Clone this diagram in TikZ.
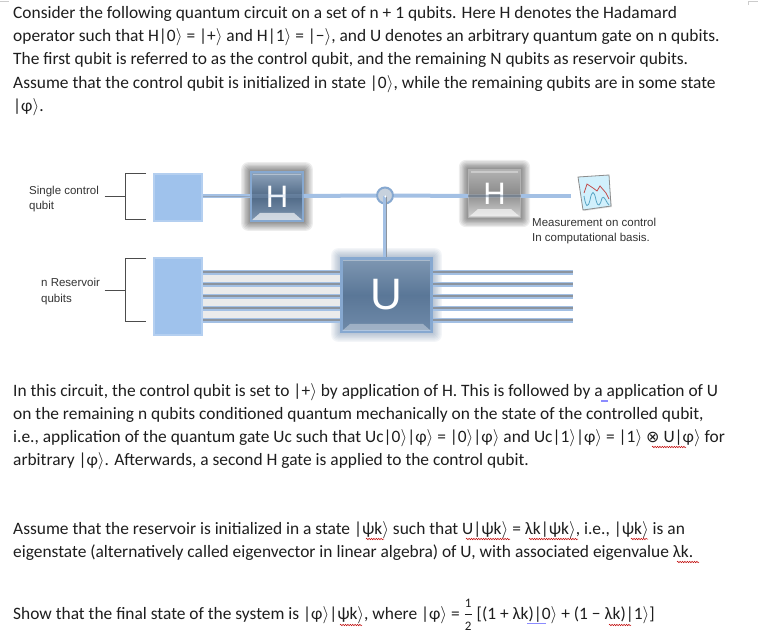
\documentclass[tikz,border=0pt]{standalone}
\usepackage{fontspec}
\setmainfont{Carlito}
\newfontfamily\lblfont{Liberation Sans}
\newfontfamily\symfont{DejaVu Sans}
\usetikzlibrary{calc,backgrounds,decorations.pathmorphing}
\definecolor{wireblue}{HTML}{A3C0E4}
\definecolor{wiregray}{HTML}{8C949E}
\definecolor{regblue}{HTML}{9FC2EC}
\definecolor{regedge}{HTML}{B4CFF0}
\definecolor{gateblue}{HTML}{5F7D9F}
\definecolor{gateedge}{HTML}{86A8D0}
\definecolor{txt}{HTML}{1E1E1E}
\newcommand{\kt}{$\rangle$}
\tikzset{
  line/.style={anchor=base west,inner sep=0pt,text=txt,font=\fontsize{17.4}{20}\selectfont},
  lbl/.style={anchor=base west,inner sep=0pt,text=black!80,font=\lblfont\fontsize{11.5}{13}\selectfont},
  reg/.style={draw=regedge,line width=2pt,fill=regblue,inner sep=0pt},
  gateU/.style={draw=gateedge,line width=2.5pt,inner sep=0pt,top color=gateblue!80!white,bottom color=gateblue!90!white,middle color=gateblue!95!black,text=white,font=\lblfont\fontsize{44}{46}\selectfont},
  gateH/.style={draw=gateedge,line width=1.5pt,inner sep=0pt,top color=gateblue!70!white,bottom color=gateblue!80!white,middle color=gateblue!85!black,text=white,font=\lblfont\fontsize{31}{33}\selectfont},
  gateG/.style={draw=gray!60,line width=1pt,inner sep=0pt,top color=gray!60,bottom color=gray!35,middle color=gray!90,text=white,font=\lblfont\fontsize{31}{33}\selectfont},
  brack/.style={draw=black!70,line width=.8pt},
  wobg/.style={draw=wireblue,line width=4pt},
  wofg/.style={draw=wiregray,line width=.9pt},
  rwbg/.style={draw=wireblue,line width=5pt},
  rwfg/.style={draw=wiregray,line width=1.3pt},
  ctrl/.style={circle,draw=gateedge,line width=2pt,fill=gateblue!35!white,minimum size=16pt,inner sep=0pt},
  squig/.style={draw=red!75!black,line width=.5pt,decorate,decoration={snake,amplitude=.7pt,segment length=2.4pt}},
  gram/.style={draw=blue!45!white,line width=1.2pt},
}
\newcommand{\softshadow}[2]{%
  \begin{pgfonlayer}{background}
  \foreach \i in {1,...,7}{
    \fill[#2,opacity=.07,rounded corners=\i pt]
      ($(#1.south west)+(-\i*1.3,\i*1.3)$) rectangle ($(#1.north east)+(\i*1.3,-\i*1.3)$);}
  \end{pgfonlayer}}
\newcommand{\bevel}[2]{%
  \fill[white,opacity=#2] ($(#1.south west)+(2,-2)$) -- ($(#1.south east)+(-2,-2)$) --
    ($(#1.south east)+(-10,-9)$) -- ($(#1.south west)+(10,-9)$) -- cycle;
  \draw[white,opacity=.35,line width=1.2pt] ($(#1.north west)+(3,3)$) -- ($(#1.north east)+(-3,3)$);}
\begin{document}
\begin{tikzpicture}[x=1pt,y=-1pt]
\useasboundingbox (0,0) rectangle (758,635);
\begin{pgfonlayer}{background}
\fill[white] (0,0) rectangle (758,635);
\end{pgfonlayer}
% window fragments
\draw[black!20,line width=.8pt] (0,1) -- (9,1);
\draw[black!20,line width=.8pt] (748,5) -- (748,1) -- (758,1);
% top paragraph
\node[line] (t1) at (13,18) {Consider the following quantum circuit on a set of n + 1 qubits. Here H denotes the Hadamard};
\node[line] (t2) at (13,41) {operator such that H|0\kt{} = |+\kt{} and H|1\kt{} = |−\kt{}, and U denotes an arbitrary quantum gate on n qubits.};
\node[line] (t3) at (13,64) {The first qubit is referred to as the control qubit, and the remaining N qubits as reservoir qubits.};
\node[line] (t4) at (13,88) {Assume that the control qubit is initialized in state |0\kt{}, while the remaining qubits are in some state};
\node[line] (t5) at (13,111) {|φ\kt{}.};
% registers
\node[reg,minimum width=48pt,minimum height=47pt] (r1) at (178,197.5) {};
\node[reg,minimum width=48pt,minimum height=77pt] (r2) at (178,296.5) {};
% gates
\node[gateH,minimum width=52pt,minimum height=49pt] (h1) at (277,196.5) {H};
\node[gateG,minimum width=52pt,minimum height=48pt] (h2) at (494.5,193.5) {H};
\node[gateU,minimum width=90pt,minimum height=73pt] (u) at (386.5,295) {U};
\node[ctrl] (c) at (385,195.5) {};
\softshadow{h1}{black}
\softshadow{h2}{black}
\softshadow{u}{gateblue}
\bevel{h1}{.65}
\bevel{h2}{.6}
\bevel{u}{.35}
% free wire ends
\coordinate (e0) at (571,196);
\begin{pgfonlayer}{background}
\fill[black!8] (203,272) rectangle (340,320);
\end{pgfonlayer}
\foreach \n/\y in {1/272,2/284,3/296,4/308,5/320}{
  \coordinate (a\n) at (203,\y);
  \coordinate (b\n) at (340,\y);
  \coordinate (d\n) at (433,\y);
  \coordinate (f\n) at (573,\y);
  \begin{pgfonlayer}{background}
  \draw[rwbg] (a\n) -- (b\n);
  \draw[rwbg] (d\n) -- (f\n);
  \end{pgfonlayer}
  \draw[rwfg] (a\n) -- (b\n);
  \draw[rwfg] (d\n) -- (f\n);
}
% control wire
\draw[wobg] (r1.east |- 0,196) -- (h1.west |- 0,196);
\draw[wobg,opacity=.2] (h1.west |- 0,196) -- (h1.east |- 0,196);
\draw[wobg] (h1.east |- 0,196) -- (c.west);
\draw[wobg] (c.east) -- (h2.west |- 0,196);
\draw[wobg,opacity=.2] (h2.west |- 0,196) -- (h2.east |- 0,196);
\draw[draw=gateblue!70!black,line width=2pt,opacity=.35] (h2.west |- 0,196) -- (h2.east |- 0,196);
\draw[wobg] (h2.east |- 0,196) -- (e0);
\draw[wofg,opacity=.6] (r1.east |- 0,196) -- (h1.west |- 0,196);
\draw[wobg] (c.center) -- (u.north -| c.center);
\draw[wofg,line width=1.4pt] ($(c.center)+(1.5,0)$) -- ($(u.north -| c.center)+(1.5,0)$);
\fill[white] ($(c.center)+(.5,1)$) circle (1.2pt);
% brackets
\coordinate (b1s) at (104.5,196);
\coordinate (b2s) at (104.5,290);
\draw[brack] (146,173) -- (125,173) -- (125,219) -- (146,219);
\draw[brack] (b1s) -- (125,196);
\draw[brack] (146,258.5) -- (125,258.5) -- (125,321) -- (146,321);
\draw[brack] (b2s) -- (125,290);
% labels
\node[lbl] (l1) at (29,194) {Single control};
\node[lbl] (l2) at (29,209) {qubit};
\node[lbl] (l3) at (41,286) {n Reservoir};
\node[lbl] (l4) at (41,302) {qubits};
\node[lbl] (l5) at (532,226) {Measurement on control};
\node[lbl] (l6) at (532,241) {In computational basis.};
% meter icon
\fill[black!12] (580,178) -- (608,176) -- (612,207) -- (584,211) -- cycle;
\draw[black!45,line width=.8pt,fill=cyan!18] (578,177) -- (609,175) -- (611,206) -- (583,210) -- cycle;
\draw[red!65!black!70,line width=.8pt] (584,193) -- (587,184) -- (593,188) -- (597,191) -- (600,186) -- (606,193) -- (609,199);
\draw[cyan!70!black!80,line width=.8pt] (584,196) .. controls (586,208) and (588,208) .. (590,200) .. controls (592,190) and (594,190) .. (596,200) .. controls (598,208) and (600,206) .. (602,198) .. controls (604,194) and (607,204) .. (609,205);
% middle paragraph
\node[line] (m1) at (13,396) {In this circuit, the control qubit is set to |+\kt{} by application of H. This is followed by a application of U};
\node[line] (m2) at (13,419) {on the remaining n qubits conditioned quantum mechanically on the state of the controlled qubit,};
\node[line] (m3) at (13,442) {i.e., application of the quantum gate Uc such that Uc|0\kt{}|φ\kt{} = |0\kt{}|φ\kt{} and Uc|1\kt{}|φ\kt{} = |1\kt{} {\symfont\fontsize{16}{18}\selectfont ⊗} U|φ\kt{} for};
\node[line] (m4) at (13,465) {arbitrary |φ\kt{}. Afterwards, a second H gate is applied to the control qubit.};
% third paragraph
\node[line] (p1) at (13,534) {Assume that the reservoir is initialized in a state |ψk\kt{} such that U|ψk\kt{} = λk|ψk\kt{}, i.e., |ψk\kt{} is an};
\node[line] (p2) at (13,557) {eigenstate (alternatively called eigenvector in linear algebra) of U, with associated eigenvalue λk.};
% last line
\node[line] (s1) at (13,619) {Show that the final state of the system is |φ\kt{}|ψk\kt{}, where |φ\kt{} = $\displaystyle\frac{\mbox{\fontsize{13}{13}\selectfont 1}}{\mbox{\fontsize{13}{13}\selectfont 2}}$ [(1 + λk)|0\kt{} + (1 − λk)|1\kt{}]};
% proofing marks
\draw[gram] (601,401) -- (608,401);
\draw[gram] (527,623.5) -- (546,623.5);
\draw[squig] (652,447) -- (686,447);
\draw[squig] (366,539) -- (384,539);
\draw[squig] (466,539) -- (510,539);
\draw[squig] (529,539) -- (578,539);
\draw[squig] (631,539) -- (648,539);
\draw[squig] (677,562) -- (699,562);
\draw[squig] (340,625) -- (362,625);
\draw[squig] (609,625) -- (631,625);
\end{tikzpicture}
\end{document}
